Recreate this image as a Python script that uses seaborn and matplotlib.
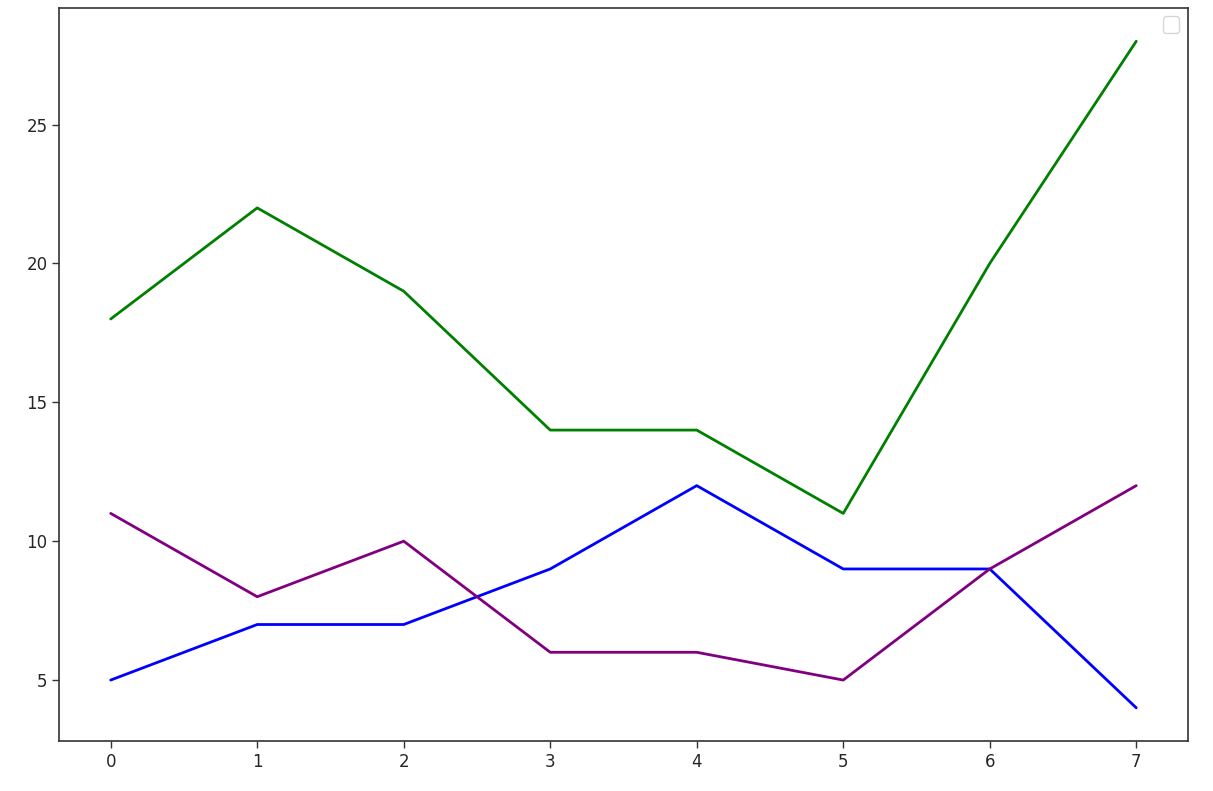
import matplotlib
matplotlib.use("Agg")
import matplotlib.pyplot as plt
import seaborn as sns
import pandas as pd

# values
x = [0, 1, 2, 3, 4, 5, 6, 7]
green_vals = [18, 22, 19, 14, 14, 11, 20, 28]
blue_vals = [5, 7, 7, 9, 12, 9, 9, 4]
purple_vals = [11, 8, 10, 6, 6, 5, 9, 12]

df = pd.DataFrame({"x": x, "green": green_vals, "blue": blue_vals, "purple": purple_vals})

sns.set_style("white")
plt.rcParams["font.family"] = ["DejaVu Sans"]

fig, ax = plt.subplots(figsize=(12.13, 7.91), dpi=100)
fig.subplots_adjust(left=0.049, right=0.979, top=0.990, bottom=0.063)

sns.lineplot(data=df, x="x", y="green", color="green", ax=ax, linewidth=2)
sns.lineplot(data=df, x="x", y="blue", color="blue", ax=ax, linewidth=2)
sns.lineplot(data=df, x="x", y="purple", color="purple", ax=ax, linewidth=2)

ax.set_xlabel("")
ax.set_ylabel("")
ax.tick_params(axis="both", labelsize=12, length=5, width=1, left=True, bottom=True, color="#333333")
for sp in ax.spines.values():
    sp.set_color("#333333")
    sp.set_linewidth(1.2)

# empty legend box, as in the reference
ax.legend(handles=[], labels=[], loc="upper right", fontsize=12, borderpad=0.5)

fig.savefig("out.png", dpi=100)
